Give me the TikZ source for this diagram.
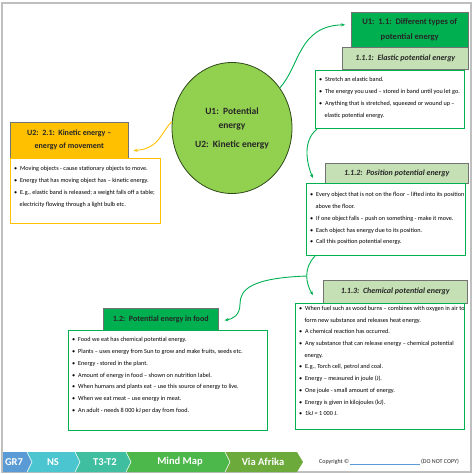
\documentclass[tikz,border=0pt]{standalone}
\usepackage{fontspec}
\setmainfont{Carlito}
\usetikzlibrary{positioning, arrows.meta, shapes.geometric, calc}
\definecolor{mapgreen}{HTML}{00B050}
\definecolor{maplime}{HTML}{92D050}
\definecolor{mappale}{HTML}{C5E0B4}
\definecolor{maporange}{HTML}{FFC000}
\definecolor{mapdark}{HTML}{2E4A1A}
\definecolor{footblue}{HTML}{5B9BD5}
\definecolor{footcyan}{HTML}{4BC5CF}
\definecolor{footteal}{HTML}{40BFA0}
\definecolor{footgreen}{HTML}{4CB74A}
\definecolor{footolive}{HTML}{6DAA3C}
\newenvironment{dotlist}{\begin{list}{\textbullet}{%
    \setlength\leftmargin{9pt}\setlength\labelwidth{2.5pt}%
    \setlength\labelsep{3pt}\setlength\rightmargin{3pt}%
    \setlength\itemsep{0pt}\setlength\parsep{0pt}%
    \setlength\topsep{0pt}\setlength\partopsep{0pt}}\raggedright}%
  {\end{list}}
% width, height, top gap, items
\newcommand{\bodytext}[4]{\parbox[c][#2][t]{#1}{\fontsize{6.2}{11.7}\selectfont
    \vspace*{#3}\begin{dotlist}#4\end{dotlist}}}
\begin{document}
\begin{tikzpicture}[
        x=1pt, y=-1pt,
        hub/.style={ellipse, draw=mapdark, line width=0.8pt, fill=maplime,
            minimum width=120pt, minimum height=131pt, align=center,
            font=\fontsize{9.5}{14}\selectfont\bfseries, text=black!85},
        headbox/.style={rectangle, draw=black!55, line width=0.5pt, anchor=north west,
            align=center, inner sep=0pt, text=black!85,
            font=\fontsize{8}{13}\selectfont\bfseries},
        body/.style={rectangle, draw=#1, line width=1.2pt, anchor=north west,
            inner sep=0pt, fill=white},
        link/.style={-{Stealth[length=4pt,width=3.2pt]}, line width=0.9pt, draw=#1},
        foottext/.style={text=white, font=\fontsize{10.5}{12}\selectfont\bfseries},
        ]
        \useasboundingbox (0,0) rectangle (474,474);
        \draw[black!25, line width=1.5pt] (2,3) rectangle (471,472);

        % Centre
        \node[hub] (hub) at (232,128) {U1:~~Potential\\energy\\[5pt]U2:~~Kinetic energy};

        % U1 branch
        \node[headbox, fill=mapgreen, minimum width=117pt, minimum height=35pt,
            font=\fontsize{8.5}{15}\selectfont\bfseries] (h11) at (351,12)
        {U1:~~1.1:~~Different types of\\potential energy};
        \node[headbox, fill=mappale, minimum width=126pt, minimum height=22pt,
            font=\fontsize{8}{13}\selectfont\bfseries\itshape] (h111) at (342,47)
        {1.1.1:~~Elastic potential energy};
        \node[body=mapgreen] (b111) at (315,70) {\bodytext{152pt}{58pt}{7pt}{%
            \item Stretch an elastic band.
            \item The energy you used -- stored in band until you let go.
            \item Anything that is stretched, squeezed or wound up -- elastic potential energy.}};

        \node[headbox, fill=mappale, minimum width=143pt, minimum height=20pt,
            font=\fontsize{8}{13}\selectfont\bfseries\itshape] (h112) at (325,163)
        {1.1.2:~~Position potential energy};
        \node[body=mapgreen] (b112) at (306,183) {\bodytext{162pt}{72pt}{9pt}{%
            \item Every object that is not on the floor -- lifted into its position above the floor.
            \item If one object falls -- push on something - make it move.
            \item Each object has energy due to its position.
            \item Call this position potential energy.}};

        \node[headbox, fill=mappale, minimum width=144pt, minimum height=23pt,
            font=\fontsize{8}{13}\selectfont\bfseries\itshape] (h113) at (323,280)
        {1.1.3:~~Chemical potential energy};
        \node[body=mapgreen] (b113) at (295,303) {\bodytext{172pt}{126pt}{2.5pt}{%
            \item When fuel such as wood burns -- combines with oxygen in air to form new substance and releases heat energy.
            \item A chemical reaction has occurred.
            \item Any substance that can release energy -- chemical potential energy.
            \item E.g., Torch cell, petrol and coal.
            \item Energy -- measured in joule (J).
            \item One joule - small amount of energy.
            \item Energy is given in kilojoules (kJ).
            \item 1kJ = 1 000 J.}};

        \node[headbox, fill=mapgreen, minimum width=115pt, minimum height=22pt] (h12) at (103,308)
        {1.2:~~Potential energy in food};
        \node[body=mapgreen] (b12) at (68,330) {\bodytext{202pt}{100pt}{7pt}{%
            \item Food we eat has chemical potential energy.
            \item Plants -- uses energy from Sun to grow and make fruits, seeds etc.
            \item Energy - stored in the plant.
            \item Amount of energy in food -- shown on nutrition label.
            \item When humans and plants eat -- use this source of energy to live.
            \item When we eat meat -- use energy in meat.
            \item An adult - needs 8 000 kJ per day from food.}};

        % U2 branch
        \node[headbox, fill=maporange, minimum width=118pt, minimum height=36pt,
            font=\fontsize{8}{13}\selectfont\bfseries] (h21) at (10,122)
        {U2:~~2.1:~~Kinetic energy --\\energy of movement};
        \node[body=maporange] (b21) at (10,158) {\bodytext{153pt}{65pt}{8pt}{%
            \item Moving objects - cause stationary objects to move.
            \item Energy that has moving object has -- kinetic energy.
            \item E.g., elastic band is released; a weight falls off a table; electricity flowing through a light bulb etc.}};

        % Connectors
        \draw[link=mapgreen] (hub.40) .. controls (300,66) and (298,26) .. ([xshift=-6pt,yshift=5pt]h11.west);
        \draw[link=maporange] (hub.174) .. controls (162,130) and (160,149) .. ([xshift=5pt,yshift=8pt]h21.south east);
        \draw[link=mapgreen] ([xshift=2pt]b111.south west) .. controls (303,140) and (306,162)
            .. ([xshift=7pt,yshift=5pt]b112.north west);
        \draw[link=mapgreen] ([xshift=9pt]b112.south west) .. controls (303,268) and (306,284)
            .. ([xshift=18pt,yshift=8pt]b113.north west);
        \coordinate (fork) at (307,276);
        \draw[link=mapgreen] (fork) .. controls (250,278) and (240,290) .. (240,304)
            .. controls (240,315) and (233,319) .. ([xshift=6pt,yshift=-1pt]h12.east);

        % Footer
        \fill[footblue] (3,452) -- (27,452) -- (32,462) -- (27,472) -- (3,472) -- cycle;
        \fill[footcyan] (27,452) -- (75,452) -- (80,462) -- (75,472) -- (27,472) -- (32,462) -- cycle;
        \fill[footteal] (75,452) -- (126,452) -- (131,462) -- (126,472) -- (75,472) -- (80,462) -- cycle;
        \fill[footgreen] (126,452) -- (225,452) -- (230,462) -- (225,472) -- (126,472) -- (131,462) -- cycle;
        \fill[footolive] (225,452) -- (297,452) -- (303,462) -- (297,472) -- (225,472) -- (230,462) -- cycle;
        \draw[white, line width=0.5pt] (27,452) -- (32,462) -- (27,472)
            (75,452) -- (80,462) -- (75,472) (126,452) -- (131,462) -- (126,472)
            (225,452) -- (230,462) -- (225,472);
        \node[foottext] (fgr) at (14,462) {GR7};
        \node[foottext] (fns) at (53,462) {NS};
        \node[foottext] (fterm) at (105,462) {T3-T2};
        \node[foottext] (fmap) at (180,462) {Mind Map};
        \node[foottext] (fpub) at (263,462) {Via Afrika};
        \node[font=\fontsize{6}{7}\selectfont, text=black!85] (fcopy) at (389,462)
        {Copyright ©\,\textcolor{footblue}{\underline{\hspace{70pt}}}\,(DO NOT COPY)};
    \end{tikzpicture}
\end{document}
